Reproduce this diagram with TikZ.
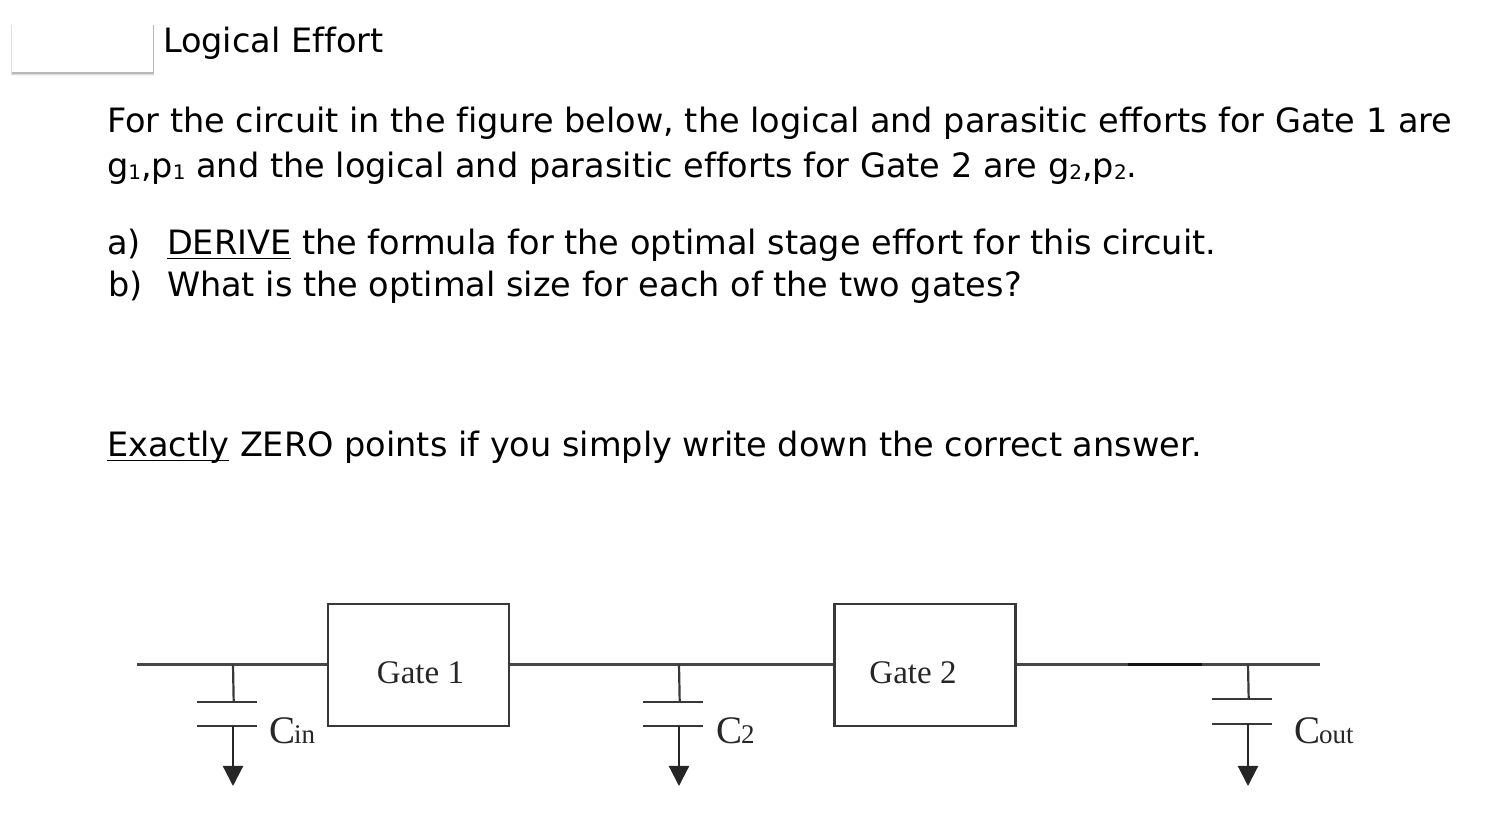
\documentclass[tikz,border=0pt]{standalone}
\usepackage{fontspec}
\setmainfont[Ligatures=NoCommon]{DejaVu Sans}
\newfontfamily\figfont{Liberation Serif}
\usetikzlibrary{arrows.meta}
\newcommand{\sbs}[1]{\raisebox{-0.05em}{\fontsize{10pt}{12pt}\selectfont #1}}
\newcommand{\ulfix}[1]{\setbox0=\hbox{#1}\rlap{\rule[-2.2pt]{\wd0}{0.7pt}}\box0\relax}
\tikzset{
 x=0.5pt,y=-0.5pt,
 txt/.style={anchor=base west,inner sep=0,outer sep=0,font=\fontsize{16.77pt}{20pt}\selectfont,text=black},
 gatebox/.style={draw=black!78,line width=1.3pt,minimum width=90.5pt,minimum height=61pt,inner sep=0},
 gatelabel/.style={font=\figfont\fontsize{16.5pt}{20pt}\selectfont,text=black!85,inner sep=0},
 wire/.style={draw=black!72,line width=1.1pt},
 capwire/.style={draw=black!78,line width=1.1pt},
 gnd/.style={draw=black!85,line width=1.1pt,-{Triangle[width=10pt,length=10pt]}},
 caplab/.style={anchor=base west,inner sep=0,font=\figfont\fontsize{19.5pt}{20pt}\selectfont,text=black!85},
}
\newcommand{\capsub}[1]{\kern-0.6pt\fontsize{13.5pt}{14pt}\selectfont #1}
\begin{document}
\begin{tikzpicture}
\useasboundingbox (0,0) rectangle (1510,822);
% card with soft shadow
\fill[black!5] (11,25) rectangle (154,76);
\fill[black!12] (11,25) rectangle (154,75);
\fill[black!28] (11.5,25) rectangle (153.5,74);
\node[fill=white,draw=none,minimum width=70.5pt,minimum height=23.5pt,inner sep=0,anchor=north west] (tab) at (12,24.5) {};
\node[txt] (title) at (163,53) {Logical Effort};
\node[txt] (l1) at (107,133) {For the circuit in the figure below, the logical and parasitic efforts for Gate 1 are};
\node[txt] (l2) at (107,178) {g\sbs{1},p\sbs{1} and the logical and parasitic efforts for Gate 2 are g\sbs{2},p\sbs{2}.};
\node[txt] (la) at (107,255) {a)};
\node[txt] (lat) at (167,255) {\ulfix{DERIVE} the formula for the optimal stage effort for this circuit.};
\node[txt] (lb) at (108,297) {b)};
\node[txt] (lbt) at (167,297) {What is the optimal size for each of the two gates?};
\node[txt] (lc) at (107,457) {\ulfix{Exactly} ZERO points if you simply write down the correct answer.};

\node[gatebox] (g1) at (418.5,665) {};
\node[gatebox] (g2) at (925,665) {};
\node[gatelabel] (g1t) at (420.5,673) {Gate 1};
\node[gatelabel] (g2t) at (913,673) {Gate 2};

\coordinate (in) at (137,664.5);
\coordinate (out) at (1320,664.5);
\coordinate (g1l) at (g1.west |- in);
\coordinate (g1r) at (g1.east |- in);
\coordinate (g2l) at (g2.west |- in);
\coordinate (g2r) at (g2.east |- in);
\coordinate (da) at (1128,664.5);
\coordinate (db) at (1202,664.5);
\draw[wire] (in) -- (g1l);
\draw[wire] (g1r) -- (g2l);
\draw[wire] (g2r) -- (out);
\draw[wire,draw=black!92] (da) -- (db);

% capacitors
\foreach \nm/\x/\a/\b in {a/233/702/726, b/679/702/726, c/1248/699/724}{
  \coordinate (\nm w) at (\x,664.5);
  \coordinate (\nm p) at (\x+0.7,\a);
  \coordinate (\nm q) at (\x,\b);
  \coordinate (\nm t) at (\x,786);
  \draw[capwire] (\nm w) -- (\nm p);
  \draw[capwire] (\x-36,\a) -- (\x+24,\a);
  \draw[capwire] (\x-36,\b) -- (\x+24,\b);
  \draw[gnd] (\nm q) -- (\nm t);
}
\node[caplab] (cin) at (269,744) {C\capsub{in}};
\node[caplab] (c2) at (716,744) {C\capsub{2}};
\node[caplab] (cout) at (1294,744) {C\capsub{out}};
\end{tikzpicture}
\end{document}
